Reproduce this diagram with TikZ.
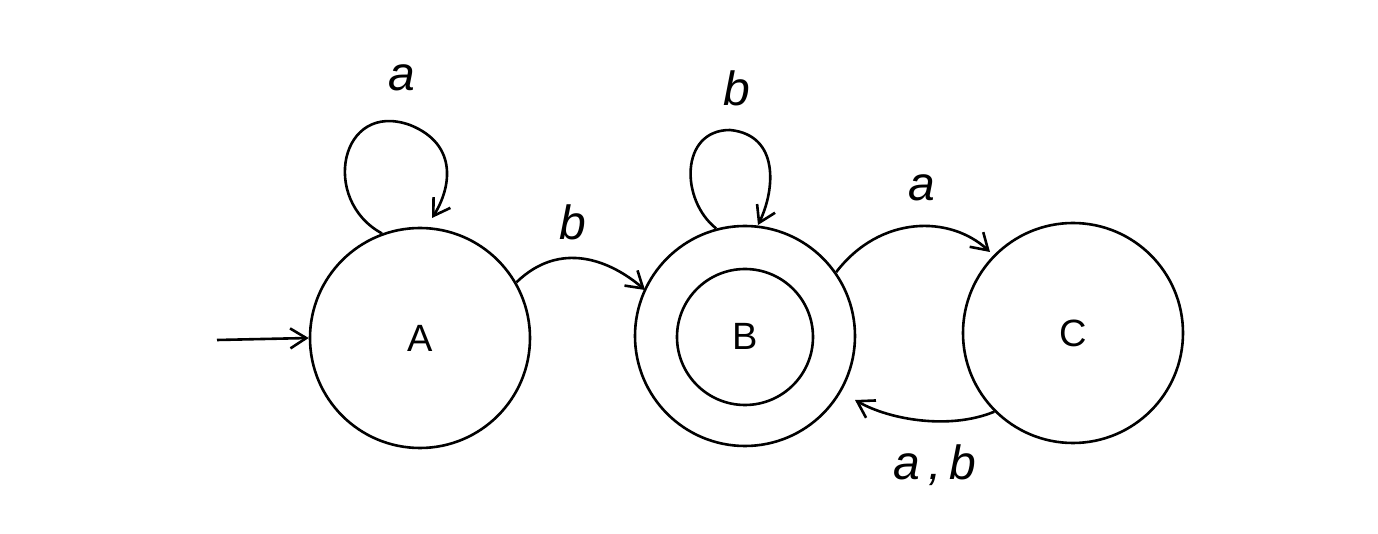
\documentclass[tikz,border=0pt]{standalone}
\usepackage{fontspec}
\setmainfont{Liberation Sans}
\usetikzlibrary{arrows.meta}
\begin{document}
\begin{tikzpicture}[x=0.5pt,y=-0.5pt,line width=1.3pt,
  st/.style={draw,circle,minimum size=110pt,inner sep=0pt,font=\fontsize{19}{22}\selectfont},
  hand/.style={font=\fontsize{24}{28}\selectfont\itshape},
  arr/.style={-{Straight Barb[length=8pt,width=10pt]}}]
\useasboundingbox (0,0) rectangle (1378,534);
\node[st] (A) at (420,338) {A};
\node[st] (B) at (745,336) {B};
\node[st] (C) at (1073,333) {C};
\draw (745,337) circle[radius=68];
\coordinate (s) at (217,340);
\draw[arr] (s) -- (A.west);
\draw[arr] (A.110) .. controls (320,200) and (340,100) .. (410,125) .. controls (460,145) and (450,190) .. (432,218);
\draw[arr] (B.105) .. controls (680,200) and (680,130) .. (730,130) .. controls (780,135) and (775,190) .. (758,225);
\draw[arr] (A.30) .. controls (560,240) and (610,260) .. (645,290);
\draw[arr] (B.35) .. controls (880,215) and (950,215) .. (990,252);
\draw[arr] (C.225) .. controls (950,430) and (890,420) .. (855,400);
\node[hand] (la) at (402,78) {a};
\node[hand] (lb) at (737,88) {b};
\node[hand] (lab) at (573,222) {b};
\node[hand] (lbc) at (922,188) {a};
\node[hand] (lcb) at (935,465) {a\,,\,b};
\end{tikzpicture}
\end{document}
